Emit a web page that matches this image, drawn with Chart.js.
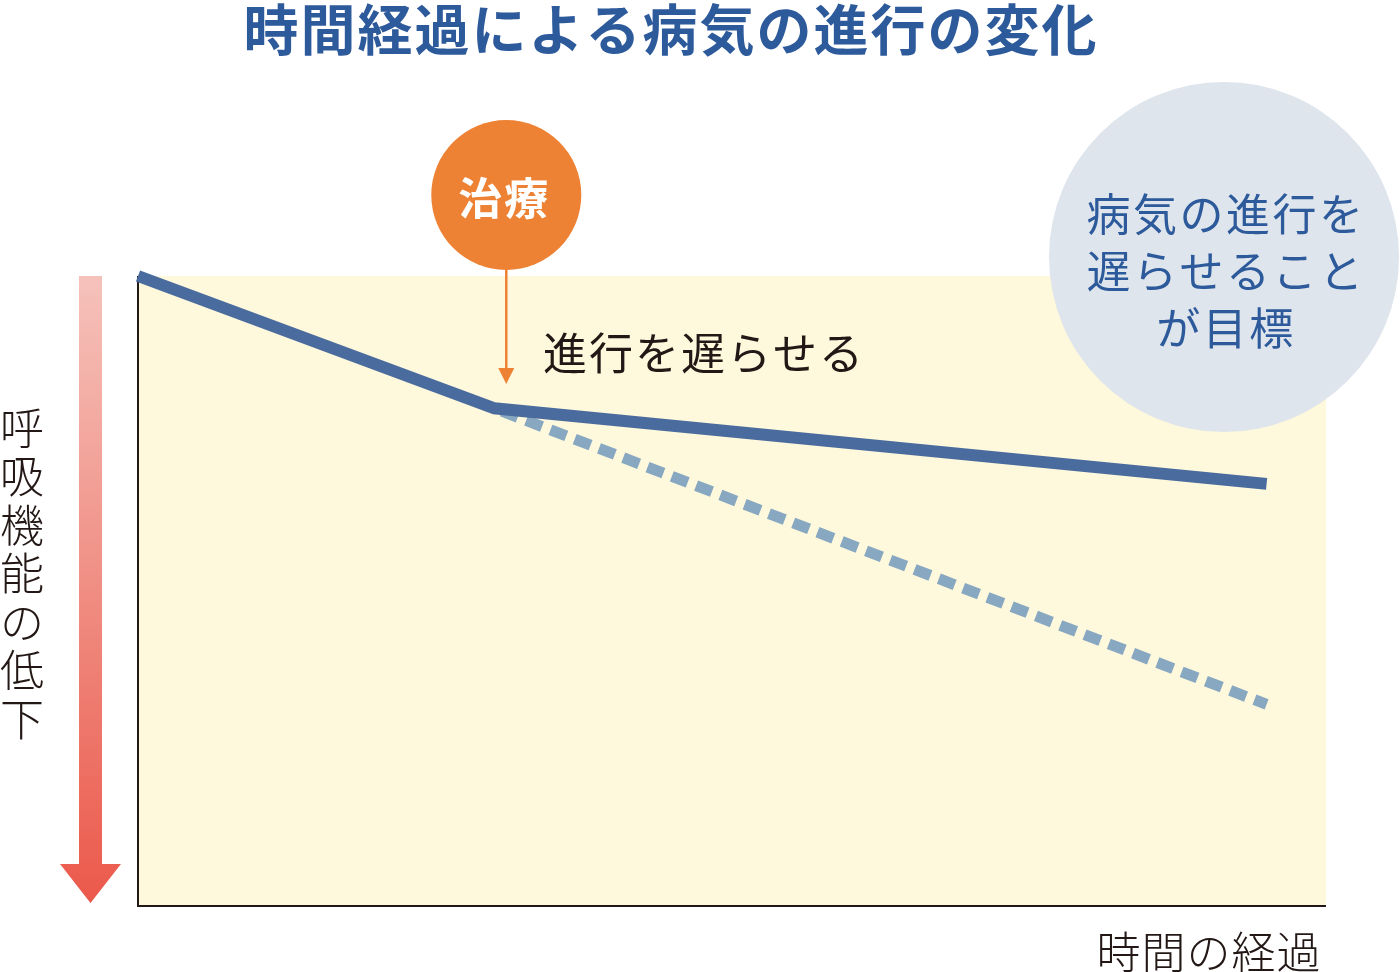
<!DOCTYPE html>
<html>
<head>
<meta charset="utf-8">
<style>
  html, body { margin: 0; padding: 0; background: #fff; }
  #wrap { width: 1400px; height: 972px; }
</style>
</head>
<body>
<div id="wrap">
  <canvas id="chart_id" width="1400" height="972"></canvas>
</div>
<script src="https://cdn.jsdelivr.net/npm/chart.js"></script>
<script>
// 時間(x)と呼吸機能(y)の値
const timeTreated = [0, 30, 95];
const lungTreated = [100, 79, 67];
const timeUntreated = [30, 95];
const lungUntreated = [79, 32];
const treatmentTime = 31;

const titleText = '時間経過による病気の進行の変化';
const yLabel = ['呼', '吸', '機', '能', 'の', '低', '下'];
const xLabel = '時間の経過';
const noteText = '進行を遅らせる';
const goalLines = ['病気の進行を', '遅らせること', 'が目標'];

const JP = '"Noto Sans CJK JP", "Noto Sans", sans-serif';

const toPoints = (xs, ys) => xs.map((x, i) => ({ x: x, y: ys[i] }));

// 背景・矢印・テキストを描くプラグイン
const decor = {
  id: 'decor',
  beforeDatasetsDraw(chart) {
    const { ctx, chartArea: a } = chart;
    ctx.save();
    ctx.fillStyle = '#FEF8DC';
    ctx.fillRect(a.left, a.top, a.right - a.left, a.bottom - a.top);
    // 軸線
    ctx.strokeStyle = '#231815';
    ctx.lineWidth = 2;
    ctx.beginPath();
    ctx.moveTo(a.left, a.top);
    ctx.lineTo(a.left, a.bottom);
    ctx.lineTo(a.right, a.bottom);
    ctx.stroke();
    ctx.restore();
  },
  afterDatasetsDraw(chart) {
    const { ctx, chartArea: a, scales } = chart;
    ctx.save();

    // タイトル
    ctx.fillStyle = '#2D5A9B';
    ctx.font = 'bold 55px ' + JP;
    ctx.textAlign = 'center';
    ctx.textBaseline = 'middle';
    ctx.letterSpacing = '2px';
    ctx.fillText(titleText, 671, 29);
    ctx.letterSpacing = '0px';

    // 左の縦矢印 (グラデーション)
    const g = ctx.createLinearGradient(0, a.top, 0, 903);
    g.addColorStop(0, '#F5C2BB');
    g.addColorStop(1, '#EB594B');
    ctx.fillStyle = g;
    ctx.beginPath();
    ctx.moveTo(79, a.top);
    ctx.lineTo(102, a.top);
    ctx.lineTo(102, 864);
    ctx.lineTo(121, 864);
    ctx.lineTo(90.5, 903);
    ctx.lineTo(60, 864);
    ctx.lineTo(79, 864);
    ctx.closePath();
    ctx.fill();

    // 縦ラベル
    ctx.fillStyle = '#231815';
    ctx.font = '300 44px ' + JP;
    ctx.textAlign = 'center';
    ctx.textBaseline = 'middle';
    yLabel.forEach((ch, i) => ctx.fillText(ch, 22, 428 + i * 48.5));

    // 横ラベル
    ctx.letterSpacing = '1px';
    ctx.fillText(xLabel, 1209, 952);

    // 治療の丸と矢印
    const tx = scales.x.getPixelForValue(treatmentTime);
    ctx.strokeStyle = '#EE8234';
    ctx.lineWidth = 2.5;
    ctx.beginPath();
    ctx.moveTo(tx, 268);
    ctx.lineTo(tx, 372);
    ctx.stroke();
    ctx.fillStyle = '#EE8234';
    ctx.beginPath();
    ctx.moveTo(tx - 8, 368);
    ctx.lineTo(tx + 8, 368);
    ctx.lineTo(tx, 384);
    ctx.closePath();
    ctx.fill();
    ctx.beginPath();
    ctx.arc(tx, 195, 75, 0, Math.PI * 2);
    ctx.fill();
    ctx.fillStyle = '#FFFFFF';
    ctx.font = 'bold 44px ' + JP;
    ctx.letterSpacing = '2px';
    ctx.fillText('治療', tx - 2, 198);

    // 進行を遅らせる
    ctx.fillStyle = '#231815';
    ctx.font = '44px ' + JP;
    ctx.textAlign = 'left';
    ctx.letterSpacing = '2px';
    ctx.fillText(noteText, 543, 353);

    // 目標の丸
    ctx.fillStyle = '#DFE5EC';
    ctx.beginPath();
    ctx.arc(1224, 257, 175, 0, Math.PI * 2);
    ctx.fill();
    ctx.fillStyle = '#2D5A9B';
    ctx.font = '44px ' + JP;
    ctx.textAlign = 'center';
    ctx.letterSpacing = '2.5px';
    goalLines.forEach((s, i) => ctx.fillText(s, 1226, 214 + i * 57));

    ctx.restore();
  }
};

new Chart(document.getElementById('chart_id'), {
  type: 'scatter',
  data: {
    datasets: [
      {
        label: '治療あり',
        data: toPoints(timeTreated, lungTreated),
        showLine: true,
        borderColor: '#4A6B9E',
        borderWidth: 12,
        pointRadius: 0,
        borderCapStyle: 'butt',
        borderJoinStyle: 'miter',
        clip: false
      },
      {
        label: '治療なし',
        data: toPoints(timeUntreated, lungUntreated),
        showLine: true,
        borderColor: '#88A8C2',
        borderWidth: 11,
        borderDash: [17, 9],
        borderDashOffset: -8,
        pointRadius: 0,
        borderCapStyle: 'butt',
        clip: false
      }
    ]
  },
  options: {
    responsive: false,
    animation: false,
    layout: { padding: { left: 138, top: 276, right: 74, bottom: 66 } },
    plugins: { legend: { display: false }, tooltip: { enabled: false } },
    scales: {
      x: { type: 'linear', display: false, min: 0, max: 100 },
      y: { type: 'linear', display: false, min: 0, max: 100 }
    }
  },
  plugins: [decor]
});
</script>
</body>
</html>
